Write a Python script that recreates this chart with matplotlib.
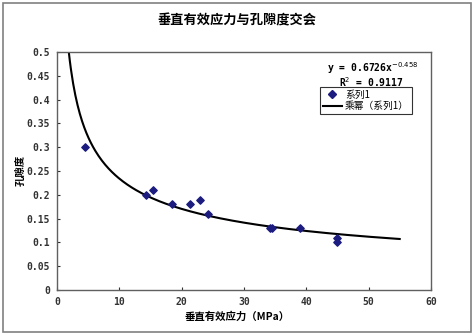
import numpy as np
import matplotlib
matplotlib.use("Agg")
import matplotlib.pyplot as plt
from matplotlib.patches import Rectangle
from matplotlib.lines import Line2D

plt.rcParams['font.family'] = ['Noto Sans CJK SC', 'DejaVu Sans']

# measured points: vertical effective stress (MPa) vs porosity
stress = [4.5, 14.3, 15.5, 18.4, 21.4, 23.0, 24.2, 34.2, 34.5, 39.0, 44.9, 44.9]
porosity = [0.30, 0.20, 0.21, 0.18, 0.18, 0.19, 0.16, 0.13, 0.13, 0.13, 0.11, 0.10]

# power-law fit y = a * x^b
fit_a = 0.6726
fit_b = -0.458
fit_r2 = 0.9117
fit_range = (1.9, 55.0)

x_ticks = [0, 10, 20, 30, 40, 50, 60]
y_ticks = [0, 0.05, 0.1, 0.15, 0.2, 0.25, 0.3, 0.35, 0.4, 0.45, 0.5]
y_tick_labels = ['0', '0.05', '0.1', '0.15', '0.2', '0.25', '0.3', '0.35', '0.4', '0.45', '0.5']

fig = plt.figure(figsize=(4.74, 3.35), dpi=100)
fig.patches.append(Rectangle((0.006, 0.009), 0.988, 0.982, transform=fig.transFigure,
                             fill=False, edgecolor='#808080', linewidth=1.2))

ax = fig.add_axes([0.120, 0.134, 0.789, 0.711])

xf = np.linspace(fit_range[0], fit_range[1], 300)
ax.plot(xf, fit_a * xf ** fit_b, color='black', linewidth=1.5, zorder=2)
ax.scatter(stress, porosity, marker='D', s=14, color='#1c1c80', zorder=3)

ax.set_xlim(0, 60)
ax.set_ylim(0, 0.5)
ax.set_xticks(x_ticks)
ax.set_yticks(y_ticks)
ax.set_yticklabels(y_tick_labels)
mono = dict(family='DejaVu Sans Mono', weight='bold', size=7)
for lab in ax.get_xticklabels() + ax.get_yticklabels():
    lab.set_fontproperties(matplotlib.font_manager.FontProperties(**mono))
ax.tick_params(direction='in', length=2.5, width=0.8, pad=5, colors='#333333')
for sp in ax.spines.values():
    sp.set_color('#606060')
    sp.set_linewidth(1.0)

fig.text(0.5, 0.94, '垂直有效应力与孔隙度交会', ha='center', va='center',
         fontsize=9.5, fontweight='bold')
fig.text(0.5, 0.055, '垂直有效应力（MPa）', ha='center', va='center',
         fontsize=7.5, fontweight='bold')
fig.text(0.043, 0.49, '孔隙度', ha='center', va='center', rotation=90,
         fontsize=7.5, fontweight='bold')

ax.text(0.845, 0.933, 'y = %.4fx$^{%.3f}$' % (fit_a, fit_b), transform=ax.transAxes,
        ha='center', va='center', fontsize=7, fontweight='bold', family='DejaVu Sans Mono')
ax.text(0.84, 0.874, 'R$^2$ = %.4f' % fit_r2, transform=ax.transAxes,
        ha='center', va='center', fontsize=7, fontweight='bold', family='DejaVu Sans Mono')

handles = [Line2D([], [], marker='D', linestyle='none', color='#1c1c80', markersize=4),
           Line2D([], [], color='black', linewidth=1.5)]
leg = ax.legend(handles, ['系列1', '乘幂（系列1）'], loc='upper right',
                bbox_to_anchor=(0.949, 0.853), fontsize=7, frameon=True,
                fancybox=False, borderpad=0.3, handlelength=2.0, handletextpad=0.3,
                labelspacing=0.15, borderaxespad=0)
leg.get_frame().set_edgecolor('black')
leg.get_frame().set_linewidth(0.8)

fig.savefig('out.png', dpi=100)
